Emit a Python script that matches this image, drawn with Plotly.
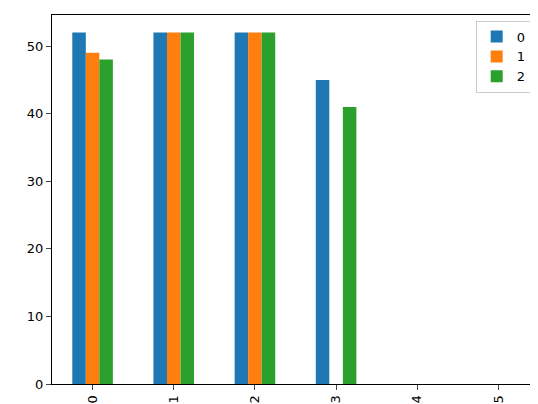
import plotly.graph_objects as go

categories = ["0", "1", "2", "3", "4", "5"]
series_names = ["0", "1", "2"]
s0 = [52, 52, 52, 45, None, None]
s1 = [49, 52, 52, None, None, None]
s2 = [48, 52, 52, 41, None, None]
colors = ["#1f77b4", "#ff7f0e", "#2ca02c"]

fig = go.Figure()
for name, vals, c in zip(series_names, [s0, s1, s2], colors):
    fig.add_trace(go.Bar(x=list(range(len(categories))), y=vals, name=name, marker_color=c, marker_line_width=0))

fig.update_layout(
    width=538, height=404, barmode="group", bargap=0.5, bargroupgap=0,
    plot_bgcolor="white", paper_bgcolor="white",
    margin=dict(l=44, r=7, t=7, b=28, autoexpand=False),
    font=dict(family="DejaVu Sans", size=13, color="black"),
    legend=dict(x=0.985, y=0.985, xanchor="right", yanchor="top", bordercolor="#cccccc", borderwidth=1,
                bgcolor="white", font=dict(size=13), itemwidth=30, tracegroupgap=0),
)
fig.update_xaxes(range=[-0.5, 5.5], tickvals=list(range(6)), ticktext=categories, tickangle=-90,
                 showline=True, linecolor="black", mirror=True, ticks="outside", showgrid=False, automargin=False)
fig.update_yaxes(range=[0, 54.6], tickvals=[0, 10, 20, 30, 40, 50], showline=True, linecolor="black",
                 mirror=True, ticks="outside", showgrid=False, zeroline=False, automargin=False)
fig.write_html("out.html")
